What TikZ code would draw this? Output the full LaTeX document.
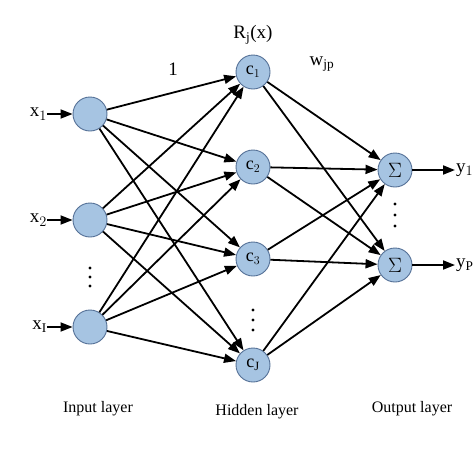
\documentclass[tikz,border=0pt]{standalone}
\usepackage{fontspec}
\setmainfont{Liberation Serif}
\usetikzlibrary{arrows.meta}
\definecolor{nodefill}{RGB}{166,196,226}
\definecolor{nodeline}{RGB}{84,112,150}
\tikzset{
  neuron/.style={circle,draw=nodeline,fill=nodefill,line width=0.9pt,minimum size=34pt,inner sep=0pt,font=\fontsize{18}{18}\selectfont},
  conn/.style={line width=1.8pt,-{Triangle[length=12pt,width=9pt]}},
  lbl/.style={font=\fontsize{19}{19}\selectfont,inner sep=0pt},
  layerlbl/.style={font=\fontsize{16}{16}\selectfont,inner sep=0pt},
  dotmark/.style={fill=black}
}
\begin{document}
\begin{tikzpicture}[x=1pt,y=-1pt]
\useasboundingbox (0,0) rectangle (474,453);
% input nodes
\node[neuron] (i1) at (90,114) {};
\node[neuron] (i2) at (90,220) {};
\node[neuron] (i3) at (90,327) {};
% hidden nodes
\node[neuron] (h1) at (253,72) {c$_1$};
\node[neuron] (h2) at (253,167) {c$_2$};
\node[neuron] (h3) at (253,259) {c$_3$};
\node[neuron] (h4) at (253,365) {c$_\mathrm{J}$};
% output nodes
\node[neuron,font=\fontsize{21}{21}\selectfont] (o1) at (395,170) {$\Sigma$};
\node[neuron,font=\fontsize{21}{21}\selectfont] (o2) at (395,265) {$\Sigma$};
% input labels
\node[lbl,anchor=east] (x1) at (47,114) {x$_1$};
\node[lbl,anchor=east] (x2) at (47,220) {x$_2$};
\node[lbl,anchor=east] (x3) at (47,327) {x$_\mathrm{I}$};
\foreach \k in {1,2,3} \draw[conn] (x\k.east) -- (i\k);
% output labels
\coordinate (e1) at (455,170);
\coordinate (e2) at (455,265);
\node[lbl,anchor=west] (y1) at (456,170) {y$_1$};
\node[lbl,anchor=west] (y2) at (456,265) {y$_\mathrm{P}$};
\draw[conn] (o1) -- (e1);
\draw[conn] (o2) -- (e2);
% connections
\foreach \a in {1,2,3}
  \foreach \b in {1,2,3,4}
    \draw[conn] (i\a) -- (h\b);
\foreach \b in {1,2,3,4}
  \foreach \c in {1,2}
    \draw[conn] (h\b) -- (o\c);
% dots
\foreach \y in {268,277,286} \fill[dotmark] (90,\y) circle (1.7pt);
\foreach \y in {310,320,330} \fill[dotmark] (253,\y) circle (1.7pt);
\foreach \y in {204,215,226} \fill[dotmark] (395,\y) circle (1.7pt);
% labels
\node[lbl] (rj) at (253,35) {R$_\mathrm{j}$(x)};
\node[lbl] (one) at (173,69) {1};
\node[lbl] (wjp) at (322,64) {w$_\mathrm{jp}$};
\node[layerlbl] (il) at (98,409) {Input layer};
\node[layerlbl] (hl) at (257,412) {Hidden layer};
\node[layerlbl] (ol) at (412,409) {Output layer};
\end{tikzpicture}
\end{document}
